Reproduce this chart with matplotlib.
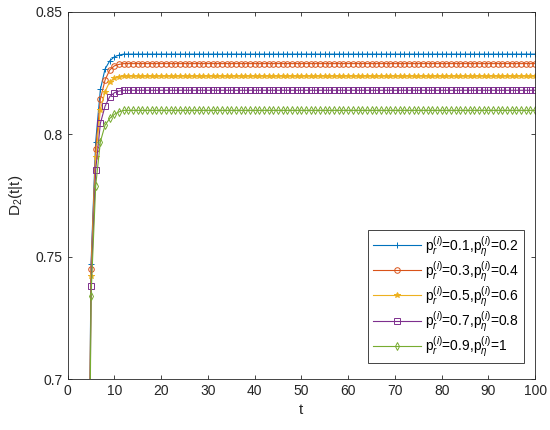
import matplotlib
matplotlib.use('Agg')
import matplotlib.pyplot as plt

plt.rcParams['font.family'] = ['Liberation Sans', 'DejaVu Sans']
plt.rcParams['mathtext.fontset'] = 'custom'
plt.rcParams['mathtext.rm'] = 'Liberation Sans'
plt.rcParams['mathtext.it'] = 'Liberation Sans:italic'

# time steps (t=4 lies below the axis and is clipped)
t = list(range(4, 101))

# D_2(t|t) for the five parameter settings, t = 4..11 then the flat tail
d_a = [0.52, 0.747, 0.797, 0.8184, 0.8267, 0.8300, 0.8317, 0.8324] + [0.8328] * 89
d_b = [0.51, 0.745, 0.794, 0.8144, 0.8222, 0.8263, 0.8280, 0.8286] + [0.8289] * 89
d_c = [0.50, 0.742, 0.7906, 0.8100, 0.8174, 0.8215, 0.8230, 0.8236] + [0.8238] * 89
d_d = [0.49, 0.738, 0.7854, 0.8045, 0.8115, 0.8154, 0.8170, 0.8177] + [0.8180] * 89
d_e = [0.48, 0.734, 0.7790, 0.7970, 0.8037, 0.8065, 0.8082, 0.8092] + [0.8098] * 89

labels = [r'p$_r^{(i)}$=0.1,p$_\eta^{(i)}$=0.2',
          r'p$_r^{(i)}$=0.3,p$_\eta^{(i)}$=0.4',
          r'p$_r^{(i)}$=0.5,p$_\eta^{(i)}$=0.6',
          r'p$_r^{(i)}$=0.7,p$_\eta^{(i)}$=0.8',
          r'p$_r^{(i)}$=0.9,p$_\eta^{(i)}$=1']
colors = ['#0072BD', '#D95319', '#EDB120', '#7E2F8E', '#77AC30']
markers = ['+', 'o', '*', 's', 'd']

fig = plt.figure(figsize=(5.5, 4.3), dpi=100)
ax = fig.add_axes([0.123, 0.1186, 0.850, 0.8535])

for ys, c, m, lab in zip([d_a, d_b, d_c, d_d, d_e], colors, markers, labels):
    ax.plot(t, ys, color=c, marker=m, markersize=4, markeredgewidth=0.7,
            markerfacecolor='none' if m in 'osd' else c,
            linewidth=0.8, label=lab)

ax.set_xlim(0, 100)
ax.set_ylim(0.7, 0.85)
ax.set_xticks(range(0, 101, 10))
ax.set_yticks([0.7, 0.75, 0.8, 0.85])
ax.set_yticklabels(['0.7', '0.75', '0.8', '0.85'])
ax.tick_params(direction='in', top=True, right=True, labelsize=10,
               colors='#262626', length=3, width=0.6)
for s in ax.spines.values():
    s.set_color('#262626')
    s.set_linewidth(0.6)
ax.set_xlabel('t', fontsize=11, color='#262626')
ax.set_ylabel('D$_2$(t|t)', fontsize=11, color='#262626', labelpad=8)

leg = ax.legend(loc='lower right', bbox_to_anchor=(0.99, 0.025), fontsize=10,
                fancybox=False, edgecolor='#262626', framealpha=1,
                handlelength=3.5, borderpad=0.3, labelspacing=0.05,
                handletextpad=0.3)
leg.get_frame().set_linewidth(0.6)

fig.savefig('out.png', dpi=100)
